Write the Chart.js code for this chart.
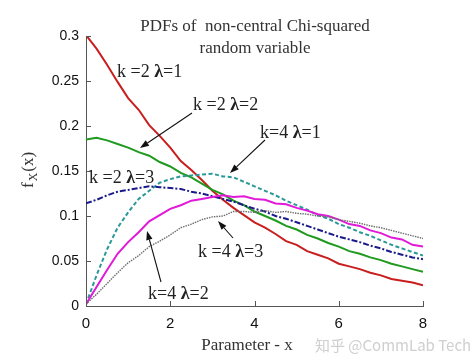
<!DOCTYPE html>
<html><head><meta charset="utf-8">
<script src="https://cdn.jsdelivr.net/npm/chart.js@4/dist/chart.umd.min.js"></script>
<style>html,body{margin:0;padding:0;background:#fff}#wrap{width:474px;height:364px}</style>
</head><body><div id="wrap"><canvas id="c" width="474" height="364"></canvas></div>
<script>
const xs = [0,0.25,0.5,0.75,1,1.25,1.5,1.75,2,2.25,2.5,2.75,3,3.25,3.5,3.75,4,4.25,4.5,4.75,5,5.25,5.5,5.75,6,6.25,6.5,6.75,7,7.25,7.5,7.75,8];
const k2l1 = [0.301,0.286,0.268,0.249,0.231,0.218,0.201,0.189,0.176,0.161,0.151,0.140,0.128,0.118,0.109,0.101,0.093,0.087,0.080,0.072,0.068,0.061,0.057,0.053,0.047,0.044,0.041,0.037,0.034,0.030,0.028,0.026,0.023];
const k2l2 = [0.185,0.187,0.184,0.180,0.176,0.171,0.167,0.160,0.155,0.148,0.143,0.136,0.129,0.124,0.117,0.112,0.105,0.100,0.095,0.089,0.085,0.079,0.075,0.070,0.066,0.061,0.058,0.054,0.051,0.047,0.044,0.041,0.038];
const k2l3 = [0.114,0.118,0.123,0.127,0.129,0.131,0.133,0.132,0.131,0.130,0.127,0.125,0.122,0.119,0.116,0.112,0.108,0.105,0.100,0.097,0.093,0.089,0.085,0.081,0.077,0.074,0.071,0.067,0.064,0.060,0.057,0.054,0.052];
const k4l1 = [0.002,0.034,0.063,0.087,0.104,0.119,0.128,0.137,0.141,0.144,0.145,0.146,0.147,0.144,0.143,0.138,0.133,0.128,0.123,0.117,0.112,0.107,0.101,0.097,0.091,0.087,0.082,0.078,0.073,0.068,0.064,0.060,0.056];
const k4l2 = [0.002,0.021,0.040,0.058,0.071,0.082,0.094,0.101,0.108,0.112,0.117,0.119,0.121,0.123,0.121,0.122,0.119,0.118,0.114,0.113,0.109,0.106,0.102,0.100,0.096,0.091,0.089,0.084,0.081,0.076,0.074,0.068,0.066];
const k4l3 = [0.002,0.013,0.025,0.037,0.048,0.056,0.066,0.072,0.079,0.087,0.091,0.096,0.099,0.100,0.105,0.105,0.104,0.106,0.104,0.105,0.103,0.102,0.100,0.099,0.096,0.094,0.092,0.089,0.087,0.084,0.081,0.078,0.075];
const xTickValues = [0,2,4,6,8];
const xTickLabels = ['0','2','4','6','8'];
const yTickValues = [0,0.05,0.1,0.15,0.2,0.25,0.3];
const yTickLabels = ['0','0.05','0.1','0.15','0.2','0.25','0.3'];

const pts = arr => xs.map((x,i)=>({x:x,y:arr[i]}));
const mk = (arr,color,w,dash) => ({data:pts(arr),borderColor:color,borderWidth:w,borderDash:dash,pointRadius:0,tension:0,fill:false});

const SERIF = '"Liberation Serif", "DejaVu Serif", serif';
function drawLabel(ctx, x, y, parts, size){
  let cx = x;
  for (const [txt,bold] of parts){
    ctx.font = (bold?'bold ':'') + size + 'px ' + SERIF;
    ctx.fillText(txt, cx, y);
    cx += ctx.measureText(txt).width;
  }
}
function arrow(ctx,x1,y1,x2,y2){
  ctx.save();
  ctx.strokeStyle='#111';ctx.fillStyle='#111';ctx.lineWidth=1.1;
  const a=Math.atan2(y2-y1,x2-x1), L=9, W=3.2;
  const bx=x2-L*Math.cos(a), by=y2-L*Math.sin(a);
  ctx.beginPath();ctx.moveTo(x1,y1);ctx.lineTo(bx,by);ctx.stroke();
  ctx.beginPath();ctx.moveTo(x2,y2);
  ctx.lineTo(bx+W*Math.sin(a),by-W*Math.cos(a));
  ctx.lineTo(bx-W*Math.sin(a),by+W*Math.cos(a));
  ctx.closePath();ctx.fill();
  ctx.restore();
}
const deco = {
  id:'deco',
  afterDraw(chart){
    const ctx=chart.ctx, xS=chart.scales.x, yS=chart.scales.y, a=chart.chartArea;
    ctx.save();
    ctx.strokeStyle='#555';ctx.lineWidth=1;
    xTickValues.forEach(v=>{const p=Math.round(xS.getPixelForValue(v))+0.5;ctx.beginPath();ctx.moveTo(p,a.bottom);ctx.lineTo(p,a.bottom-5);ctx.stroke();});
    yTickValues.forEach(v=>{const p=Math.round(yS.getPixelForValue(v))+0.5;ctx.beginPath();ctx.moveTo(a.left,p);ctx.lineTo(a.left+5,p);ctx.stroke();});
    ctx.fillStyle='#333';ctx.textBaseline='alphabetic';
    ctx.font='17px '+SERIF;ctx.textAlign='center';
    ctx.fillText('PDFs of  non-central Chi-squared',255,31);
    ctx.fillText('random variable',255,53);
    ctx.fillText('Parameter - x',247,350);
    ctx.fillStyle='#cfcfcf';ctx.font='15px "Noto Sans CJK SC", sans-serif';ctx.textAlign='left';
    ctx.fillText('知乎 @CommLab Tech',315,351);
    ctx.fillStyle='#333';
    ctx.save();ctx.translate(33,188);ctx.rotate(-Math.PI/2);ctx.textAlign='left';
    ctx.font='17px '+SERIF;ctx.fillText('f',0,0);let w=ctx.measureText('f').width;
    ctx.font='12px '+SERIF;ctx.fillText('X',w+1,4);w+=ctx.measureText('X').width+2;
    ctx.font='17px '+SERIF;ctx.fillText('(x)',w,0);
    ctx.restore();
    ctx.fillStyle='#222';ctx.textAlign='left';
    drawLabel(ctx,117,77,[['k =2 ',0],['λ',1],['=1',0]],18);
    drawLabel(ctx,193,110,[['k =2 ',0],['λ',1],['=2',0]],18);
    drawLabel(ctx,260,138,[['k=4 ',0],['λ',1],['=1',0]],18);
    drawLabel(ctx,89,183,[['k =2 ',0],['λ',1],['=3',0]],18);
    drawLabel(ctx,198,257,[['k =4 ',0],['λ',1],['=3',0]],18);
    drawLabel(ctx,148,299,[['k=4 ',0],['λ',1],['=2',0]],18);
    arrow(ctx,192,113,140,148);
    arrow(ctx,265,140,230,173);
    arrow(ctx,233,238,218,221);
    arrow(ctx,161,282,147,231);
    ctx.restore();
  }
};

new Chart(document.getElementById('c'),{
  type:'line',
  data:{datasets:[
    mk(k4l3,'#6e6e6e',1.4,[1.5,1]),
    mk(k4l2,'#e01ad8',2,[]),
    mk(k2l3,'#1a1a8c',2,[6,2,2,2]),
    mk(k4l1,'#2a9898',2,[4,2.5]),
    mk(k2l2,'#1f9a1f',2,[]),
    mk(k2l1,'#c81e1e',2,[])
  ]},
  options:{
    responsive:false,animation:false,
    layout:{padding:{left:0,right:51,top:36,bottom:0}},
    plugins:{legend:{display:false},tooltip:{enabled:false}},
    scales:{
      x:{type:'linear',min:0,max:8,
        afterBuildTicks:s=>{s.ticks=xTickValues.map(v=>({value:v}));},
        afterFit:s=>{s.height=58;},
        ticks:{callback:(v,i)=>xTickLabels[i],padding:9,color:'#111',font:{family:'"Liberation Sans", Arial, sans-serif',size:15},maxRotation:0},
        grid:{drawOnChartArea:false,drawTicks:false},
        border:{display:true,color:'#555',width:1}},
      y:{type:'linear',min:0,max:0.3,
        afterBuildTicks:s=>{s.ticks=yTickValues.map(v=>({value:v}));},
        afterFit:s=>{s.width=86;},
        ticks:{callback:(v,i)=>yTickLabels[i],padding:7,color:'#111',font:{family:'"Liberation Sans", Arial, sans-serif',size:14}},
        grid:{drawOnChartArea:false,drawTicks:false},
        border:{display:true,color:'#555',width:1}}
    }
  },
  plugins:[deco]
});
</script></body></html>
